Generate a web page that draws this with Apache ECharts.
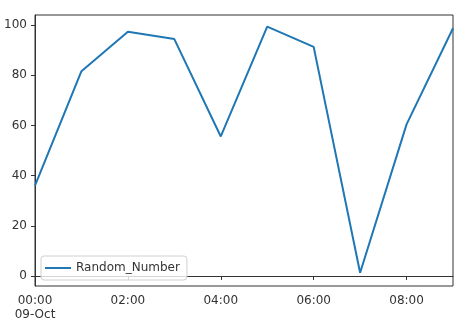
<!DOCTYPE html>
<html>
<head>
<meta charset="utf-8">
<script src="https://cdn.jsdelivr.net/npm/echarts@6/dist/echarts.min.js"></script>
<style>
  html, body { margin: 0; padding: 0; background: #fff; }
  #chart { width: 474px; height: 329px; }
</style>
</head>
<body>
<div id="chart"></div>
<script>
// hourly readings on 09-Oct
var hours = ['00:00', '01:00', '02:00', '03:00', '04:00', '05:00', '06:00', '07:00', '08:00', '09:00'];
var randomNumber = [36, 81.6, 97.3, 94.4, 55.6, 99.4, 91.3, 1.3, 60.4, 98.7];
var yTicks = [0, 20, 40, 60, 80, 100];
var dateLabel = '09-Oct';

var chart = echarts.init(document.getElementById('chart'));
var textColor = '#333';
var font = 'DejaVu Sans';

var option = {
    animation: false,
    grid: {
        left: 35, right: 21, top: 15, bottom: 43,
        show: true, borderColor: '#333', borderWidth: 1
    },
    legend: {
        data: [{ name: 'Random_Number', icon: 'path://M0,0H26V2H0Z' }],
        left: 41, top: 256,
        orient: 'vertical',
        padding: [6, 7, 6, 4],
        itemWidth: 26, itemHeight: 2, itemGap: 8,
        borderColor: '#d0d0d0', borderWidth: 1, borderRadius: 3,
        backgroundColor: 'rgba(255,255,255,0.8)',
        textStyle: { color: textColor, fontFamily: font, fontSize: 12, lineHeight: 12 }
    },
    xAxis: {
        type: 'category',
        data: hours,
        boundaryGap: false,
        axisLine: { lineStyle: { color: '#333' } },
        axisTick: { interval: 1, length: 4, lineStyle: { color: '#333' } },
        axisLabel: {
            interval: 1, margin: 8,
            color: textColor, fontFamily: font, fontSize: 12, lineHeight: 14,
            formatter: function (v, i) { return i === 0 ? v + '\n' + dateLabel : v; }
        },
        splitLine: { show: false }
    },
    yAxis: {
        type: 'value',
        min: -4, max: 104,
        axisLine: { show: true, lineStyle: { color: '#333' } },
        axisTick: { show: true, length: 4, customValues: yTicks, lineStyle: { color: '#333' } },
        axisLabel: { customValues: yTicks, margin: 8, color: textColor, fontFamily: font, fontSize: 12 },
        splitLine: { show: false }
    },
    series: [{
        name: 'Random_Number',
        type: 'line',
        data: randomNumber,
        symbol: 'none',
        color: '#1f77b4',
        lineStyle: { width: 2 }
    }]
};
chart.setOption(option);
</script>
</body>
</html>
